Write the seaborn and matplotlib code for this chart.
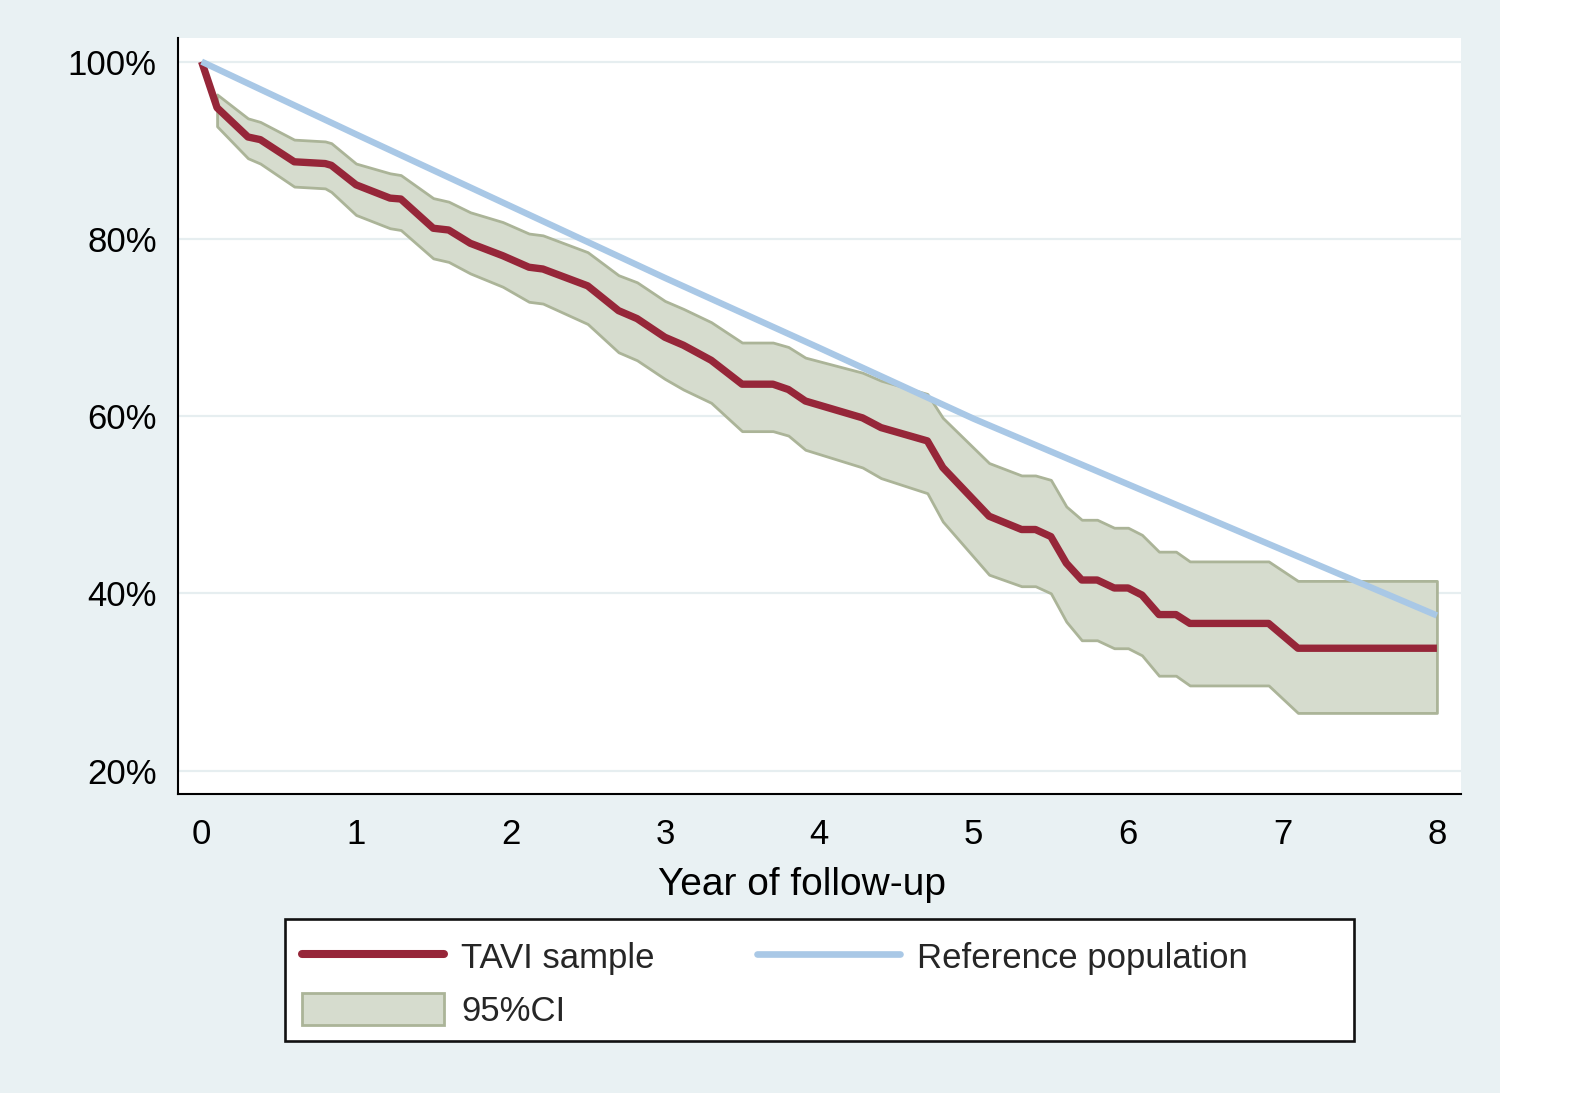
import matplotlib
matplotlib.use("Agg")
import matplotlib.pyplot as plt
from matplotlib.patches import Rectangle, Patch
from matplotlib.lines import Line2D
import seaborn as sns
import pandas as pd

# ---------------- data ----------------
time = [0, 0.1, 0.3, 0.38, 0.6, 0.8, 0.84, 1.0, 1.22, 1.29, 1.5, 1.6, 1.74, 1.95,
        2.12, 2.21, 2.5, 2.7, 2.82, 3.0, 3.12, 3.3, 3.5, 3.7, 3.8, 3.91, 4.28, 4.4,
        4.7, 4.8, 5.1, 5.31, 5.4, 5.5, 5.6, 5.7, 5.8, 5.91, 6.0, 6.09, 6.2, 6.31,
        6.4, 6.91, 7.1, 8.0]
tavi = [100, 94.8, 91.5, 91.2, 88.7, 88.5, 88.3, 86.1, 84.6, 84.5, 81.2, 81.0, 79.5,
        78.1, 76.8, 76.6, 74.7, 71.9, 71.0, 68.9, 68.0, 66.3, 63.6, 63.6, 63.0, 61.7,
        59.8, 58.7, 57.2, 54.2, 48.7, 47.2, 47.2, 46.4, 43.4, 41.5, 41.5, 40.6, 40.6,
        39.8, 37.6, 37.6, 36.6, 36.6, 33.8, 33.8]
ci_time = time[1:]
ci_upper = [96.3, 93.6, 93.2, 91.2, 91.0, 90.8, 88.5, 87.4, 87.2, 84.6, 84.2, 83.0,
            81.9, 80.6, 80.4, 78.5, 75.9, 75.1, 73.0, 72.1, 70.6, 68.3, 68.3, 67.8,
            66.6, 64.9, 64.0, 62.5, 59.8, 54.7, 53.3, 53.3, 52.8, 49.8, 48.3, 48.3,
            47.4, 47.4, 46.6, 44.7, 44.7, 43.6, 43.6, 41.4, 41.4]
ci_lower = [92.7, 89.1, 88.5, 85.9, 85.7, 85.3, 82.7, 81.2, 81.0, 77.8, 77.4, 76.1,
            74.6, 72.9, 72.7, 70.4, 67.2, 66.3, 64.2, 63.0, 61.5, 58.3, 58.3, 57.8,
            56.2, 54.2, 53.0, 51.3, 48.1, 42.1, 40.8, 40.8, 40.0, 36.8, 34.7, 34.7,
            33.8, 33.8, 33.0, 30.7, 30.7, 29.6, 29.6, 26.5, 26.5]
ref_time = [0, 1, 2, 3, 4, 5, 6, 7, 8]
ref_pop = [100, 91.8, 83.7, 75.6, 67.7, 59.7, 52.3, 44.9, 37.5]

xticks = [0, 1, 2, 3, 4, 5, 6, 7, 8]
yticks = [20, 40, 60, 80, 100]
ytick_labels = ["20%", "40%", "60%", "80%", "100%"]
labels = ["TAVI sample", "95%CI", "Reference population"]
xlabel = "Year of follow-up"

# ---------------- style ----------------
BG = "#E9F1F3"
RED = "#962639"
BLUE = "#A9C8E6"
CI_FILL = "#D6DCCE"
CI_EDGE = "#ABB498"
GRID = "#E6EEF0"

sns.set_style("white")
plt.rcParams["font.family"] = ["Liberation Sans", "DejaVu Sans"]

W, H = 1574, 1093
fig = plt.figure(figsize=(W / 100, H / 100), dpi=100)
fig.patch.set_facecolor(BG)
fig.patches.append(Rectangle((1500 / W, 0), 1 - 1500 / W, 1, transform=fig.transFigure,
                             facecolor="white", edgecolor="none", zorder=-10))

ax = fig.add_axes([177.7 / W, 1 - 794 / H, (1461 - 177.7) / W, (794 - 38) / H])
ax.set_facecolor("white")

df_tavi = pd.DataFrame({"t": time, "s": tavi})
df_ref = pd.DataFrame({"t": ref_time, "s": ref_pop})

ax.fill_between(ci_time, ci_lower, ci_upper, facecolor=CI_FILL, edgecolor=CI_EDGE,
                linewidth=2.0, zorder=2, joinstyle="round")
sns.lineplot(data=df_tavi, x="t", y="s", ax=ax, color=RED, linewidth=5.3,
             estimator=None, sort=False, zorder=3, solid_joinstyle="round",
             solid_capstyle="butt")
sns.lineplot(data=df_ref, x="t", y="s", ax=ax, color=BLUE, linewidth=4.6,
             estimator=None, sort=False, zorder=4, solid_joinstyle="round",
             solid_capstyle="butt")

ax.set_xlim(-0.155, 8.156)
ax.set_ylim(17.35, 102.67)
ax.set_xticks(xticks)
ax.set_xticklabels([str(v) for v in xticks])
ax.set_yticks(yticks)
ax.set_yticklabels(ytick_labels)
ax.yaxis.grid(True, color=GRID, linewidth=1.6, zorder=0)
ax.xaxis.grid(False)
ax.set_axisbelow(True)

for side in ["top", "right"]:
    ax.spines[side].set_visible(False)
for side in ["left", "bottom"]:
    ax.spines[side].set_color("black")
    ax.spines[side].set_linewidth(1.5)

ax.tick_params(axis="both", which="major", direction="out", length=10, width=1.5,
               color="black", labelsize=25, labelcolor="black")
ax.tick_params(axis="x", pad=7)
ax.tick_params(axis="y", pad=5)
ax.set_xlabel(xlabel, fontsize=28, color="black")
ax.xaxis.set_label_coords(0.4865, -0.097)
ax.set_ylabel("")

# ---------------- legend ----------------
handles = [Line2D([], [], color=RED, linewidth=5.8),
           Patch(facecolor=CI_FILL, edgecolor=CI_EDGE, linewidth=2.0),
           Line2D([], [], color=BLUE, linewidth=4.8)]
leg = fig.legend(handles, labels, ncol=2, loc="center left",
                 bbox_to_anchor=(301.6 / W, 1 - 984 / H), frameon=False,
                 fontsize=25, handlelength=4.1, handleheight=1.07, handletextpad=0.5,
                 columnspacing=2.95, labelspacing=0.5, borderpad=0, borderaxespad=0)
fig.patches.append(Rectangle((285 / W, 1 - 1041 / H), (1354 - 285) / W, (1041 - 919) / H,
                             transform=fig.transFigure, facecolor="white",
                             edgecolor="#111111", linewidth=1.9, zorder=-5))

fig.savefig("out.png", dpi=100, facecolor=fig.get_facecolor())
